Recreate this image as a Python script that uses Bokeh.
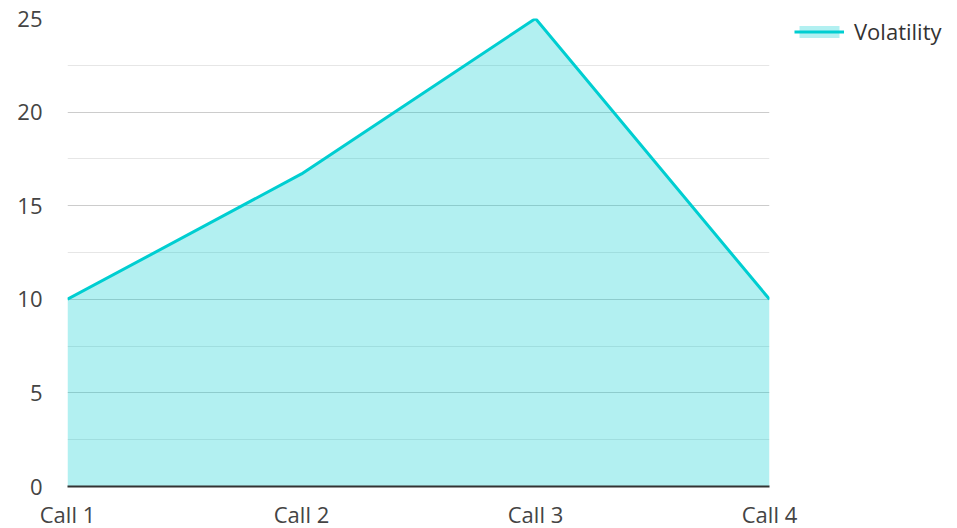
from bokeh.plotting import figure
from bokeh.models import Range1d, FixedTicker, Legend, LegendItem
from bokeh.embed import file_html
from bokeh.resources import INLINE

categories = ["Call 1", "Call 2", "Call 3", "Call 4"]
volatility = [10, 16.7, 25, 10]
y_ticks = [0, 5, 10, 15, 20, 25]
minor_ticks = [2.5, 7.5, 12.5, 17.5, 22.5]

FONT = "Open Sans"
FS = "22px"
xs = list(range(len(categories)))

p = figure(frame_width=702, frame_height=468, output_backend="svg", toolbar_location=None,
           x_range=Range1d(0, len(categories) - 1), y_range=Range1d(0, 25),
           min_border_left=67, min_border_top=18, min_border_bottom=30, min_border_right=185)
p.outline_line_color = None
p.background_fill_color = "white"

# grids
p.xgrid.grid_line_color = None
p.ygrid.ticker = FixedTicker(ticks=y_ticks, minor_ticks=minor_ticks)
p.ygrid.grid_line_color = "#cccccc"
p.ygrid.grid_line_width = 1
p.ygrid.minor_grid_line_color = "#e6e6e6"
p.ygrid.minor_grid_line_width = 1

# axes
p.yaxis.ticker = FixedTicker(ticks=y_ticks)
p.yaxis.axis_line_color = None
p.yaxis.major_tick_line_color = None
p.yaxis.minor_tick_line_color = None
p.yaxis.major_label_standoff = 19
p.yaxis.major_label_text_font = FONT
p.yaxis.major_label_text_font_size = FS
p.yaxis.major_label_text_color = "#444444"

p.xaxis.ticker = FixedTicker(ticks=xs)
p.xaxis.major_label_overrides = {i: c for i, c in enumerate(categories)}
p.xaxis.axis_line_color = "#333333"
p.xaxis.axis_line_width = 2
p.xaxis.major_tick_line_color = None
p.xaxis.minor_tick_line_color = None
p.xaxis.major_label_standoff = 6
p.xaxis.major_label_text_font = FONT
p.xaxis.major_label_text_font_size = FS
p.xaxis.major_label_text_color = "#444444"

area = p.varea(x=xs, y1=[0] * len(xs), y2=volatility, fill_color="#00CED1", fill_alpha=0.3)
line = p.line(x=xs, y=volatility, line_color="#00CED1", line_width=3)

legend = Legend(items=[LegendItem(label="Volatility", renderers=[area, line])],
                location=(25, 440), border_line_color=None, background_fill_alpha=0,
                label_text_font=FONT, label_text_font_size=FS, label_text_color="#333333",
                glyph_width=50, glyph_height=15, padding=0, margin=0,
                label_standoff=10)
p.add_layout(legend, "right")

open("out.html", "w").write(file_html(p, INLINE))
